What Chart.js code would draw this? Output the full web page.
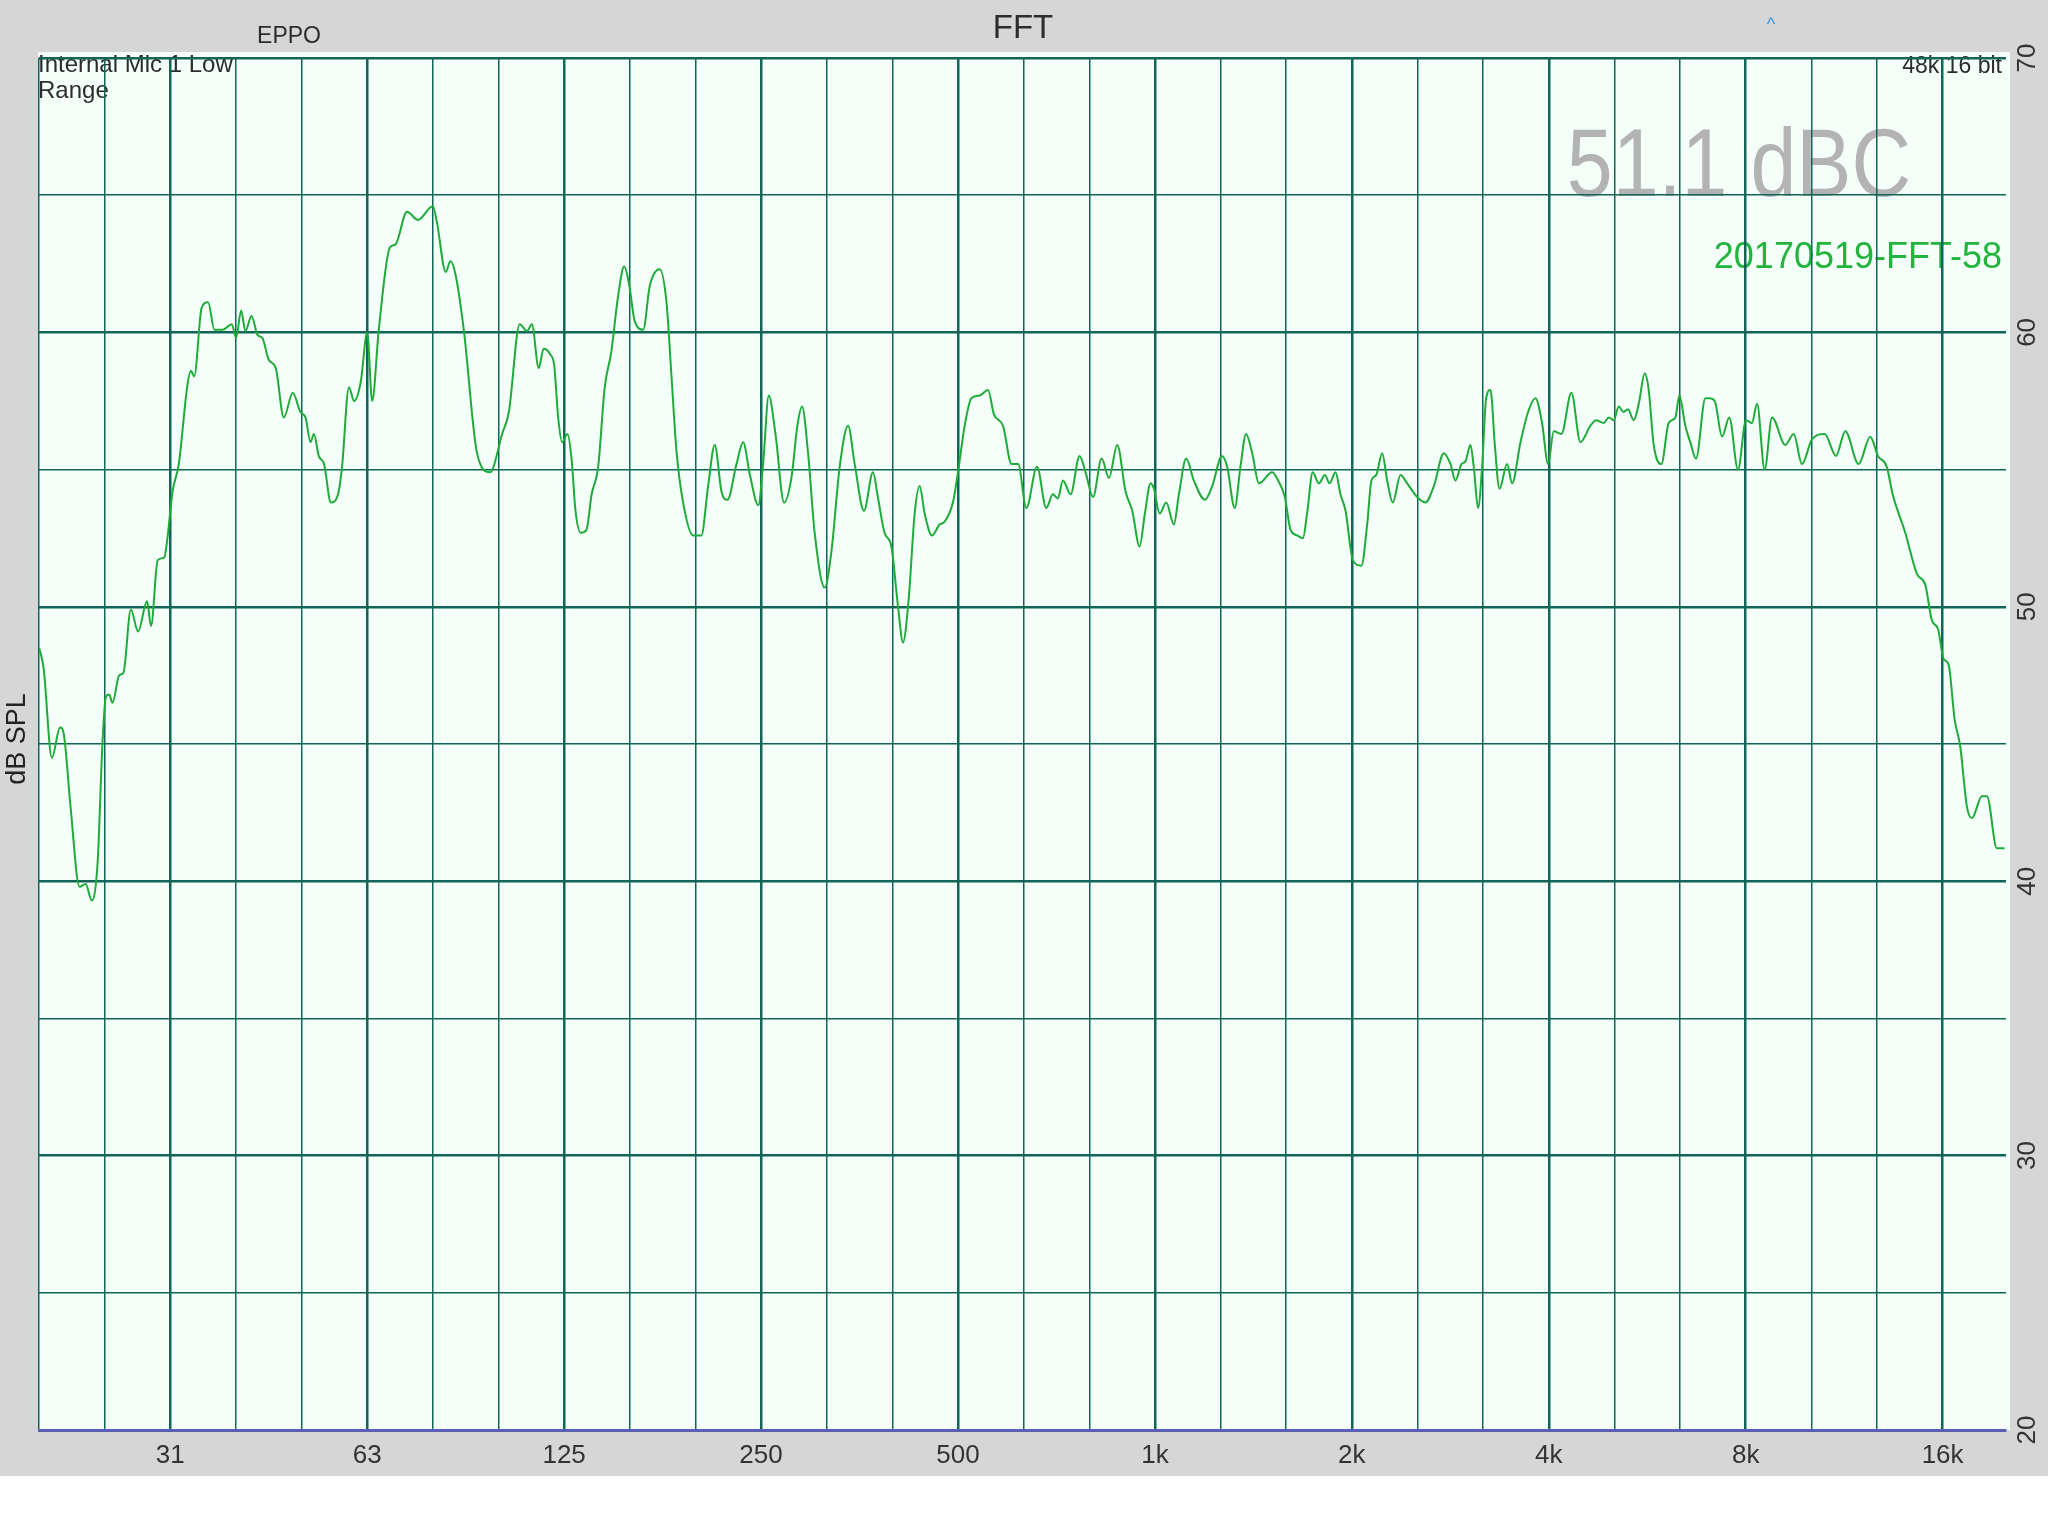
<!DOCTYPE html>
<html lang="en">
<head>
  <meta charset="utf-8">
  <title>FFT</title>
  <script src="https://cdn.jsdelivr.net/npm/chart.js"></script>
  <style>
    html, body {
      margin: 0;
      padding: 0;
      background: #ffffff;
    }
    #wrap {
      width: 2048px;
      height: 1476px;
    }
  </style>
</head>
<body>
  <div id="wrap"><canvas id="fftChart" width="2048" height="1476"></canvas></div>

  <script>
    // trace: frequency (Hz) and level (dB SPL)
    const freqs = [
      19.7, 20.0, 20.6, 21.2, 21.5, 22.0, 22.7, 23.2, 23.7, 24.2, 24.6, 24.9, 25.2, 25.5, 26.1, 26.5,
      27.2, 27.9, 28.8, 29.2, 29.9, 30.6, 30.9, 31.5, 32.2, 33.2, 33.6, 34.0, 34.9, 35.7, 36.5, 37.6,
      38.8, 39.4, 40.1, 40.7, 41.6, 42.5, 43.2, 44.2, 45.3, 46.6, 48.1, 49.4, 50.3, 51.2, 51.8, 52.7,
      53.7, 55.0, 56.4, 57.2, 58.6, 59.7, 61.1, 62.5, 63.6, 65.1, 67.7, 69.0, 71.9, 74.7, 78.75, 79.9,
      82.4, 83.8, 85.3, 87.8, 92.0, 96.3, 100.5, 102.9, 106.9, 109.7, 111.6, 114.3, 116.3, 119.0,
      120.7, 122.4, 124.1, 126.5, 128.3, 130.1, 132.5, 135.2, 137.7, 140.9, 144.2, 147.6, 151.1, 154.4,
      157.0, 160.3, 165.1, 169.0, 175.0, 179.2, 182.4, 185.6, 190.0, 196.8, 202.6, 207.5, 212.4, 217.5,
      222.1, 229.3, 234.7, 240.4, 247.6, 251.8, 256.9, 263.0, 271.1, 278.2, 284.1, 288.8, 295.0, 301.9,
      312.8, 320.2, 329.7, 339.6, 347.6, 359.1, 370.7, 377.1, 386.1, 395.5, 404.9, 412.0, 420.4, 429.3,
      436.9, 444.6, 456.3, 468.6, 477.0, 491.1, 500, 511.9, 524.1, 539.7, 555.7, 567.7, 585.8, 603.7,
      618.0, 636.0, 660.4, 682.2, 698.2, 710.5,
      723.5, 743.2, 767.1, 783.5, 804.2, 829.0, 850.7, 875.8, 901.8, 923.4, 947.4, 965.4, 984.8, 996.5,
      1016.6, 1040.7, 1069.1, 1088.1, 1116.5, 1147.1, 1192.3, 1223.5, 1266.4, 1289.7, 1324.4, 1351.2,
      1378.4, 1408.4, 1441.9, 1511.1, 1543.2, 1580.0, 1611.8, 1650.2, 1683.9, 1708.5, 1742.9, 1780.8,
      1818.9, 1849.0, 1888.1, 1921.6, 1956.2, 2006.9, 2068.9, 2110.9, 2142.9, 2178.8, 2225.4, 2264.6,
      2310.2, 2373.4, 2430.0, 2517.0, 2591.0, 2669.7, 2764.5, 2830.5, 2880.4, 2941.6, 2983.4, 3036.1,
      3072.1, 3119.3, 3163.5, 3208.7, 3258.4, 3308.2, 3362.9, 3454.2, 3516.1, 3621.2, 3719.3, 3816.8,
      3906.6, 3990.8, 4070.6,
      4182.5, 4331.9, 4471.2, 4632.0, 4724.8, 4854.4, 4940.4, 5028.0, 5117.2, 5206.1, 5287.1, 5394.0,
      5491.3, 5607.7, 5686.8, 5787.6, 5945.8, 6100.6, 6246.2, 6335.0, 6468.1, 6582.6, 6717.9, 6942.0,
      7040.4, 7173.8, 7361.7, 7552.2, 7785.9, 8009.4, 8179.2, 8326.4, 8552.0, 8776.8, 9198.4, 9472.0,
      9753.6, 10102, 10565, 10993, 11361, 11905, 12402, 12743, 13146, 13420, 14029, 14618, 15054, 15412,
      15739, 16056, 16338, 16691, 17027, 17434, 17741, 18374, 18701, 19368, 19899
    ];
    const levels = [
      48.5, 47.8, 44.5, 45.6, 45.3, 42.7, 39.8, 39.9, 39.3, 40.7, 44.9, 46.7, 46.8, 46.5, 47.5, 47.6,
      49.9, 49.1, 50.2, 49.3, 51.7, 51.8, 52.4, 54.2, 55.2, 58.1, 58.6, 58.4, 60.9, 61.1, 60.1, 60.1,
      60.3, 59.8, 60.8, 60.05, 60.6, 59.9, 59.8, 59.0, 58.7, 56.9, 57.8, 57.1, 56.9, 56.0, 56.3, 55.5,
      55.2, 53.8, 54.1, 55.1, 58.0, 57.5, 58.2, 60.0, 57.5, 60.1, 63.1, 63.2, 64.4, 64.1, 64.6, 64.0,
      62.2, 62.6, 62.1, 60.1, 55.6, 54.9, 56.3, 57.1, 60.3, 60.05, 60.3, 58.7, 59.4, 59.2,
      58.8, 56.9, 56.0, 56.3, 55.4, 53.5, 52.7, 52.8, 54.1, 55.1, 58.0, 59.3, 61.3, 62.4,
      61.8, 60.4, 60.1, 61.7, 62.3, 61.1, 58.4, 55.7, 53.8, 52.6, 52.6, 54.4, 55.9, 54.2,
      53.9, 55.2, 56.0, 54.8, 53.7, 55.2, 57.7, 56.3, 53.8, 54.7, 56.6, 57.3, 55.6, 52.7,
      50.7, 52.0, 55.1, 56.6, 55.2, 53.5, 54.9, 54.0, 52.7, 52.2, 50.0, 48.7, 50.3, 53.4,
      54.4, 53.4, 52.6, 53.0, 53.1, 53.8, 54.9, 56.6, 57.6, 57.7, 57.9, 57.0, 56.6, 55.2,
      55.2, 53.6, 55.1, 53.6, 54.1, 53.95,
      54.6, 54.1, 55.5, 54.9, 54.0, 55.4, 54.7, 55.9, 54.2, 53.5, 52.2, 53.4, 54.5, 54.3,
      53.4, 53.8, 53.0, 54.1, 55.4, 54.6, 53.9, 54.4, 55.5, 55.1, 53.6, 55.1,
      56.3, 55.6, 54.5, 54.9, 54.6, 54.0, 52.8, 52.6, 52.5, 53.4, 54.9, 54.5,
      54.8, 54.5, 54.9, 54.1, 53.5, 51.7, 51.5, 53.0, 54.6, 54.8, 55.6, 54.6,
      53.8, 54.8, 54.5, 54.0, 53.8, 54.4, 55.6, 55.2, 54.6, 55.2, 55.3, 55.9,
      55.1, 53.6, 55.1, 57.6, 57.9, 55.9, 54.3, 55.2, 54.5, 56.0, 57.1, 57.6,
      56.7, 55.2, 56.4,
      56.3, 57.8, 56.0, 56.6, 56.8, 56.7, 56.9, 56.8, 57.3, 57.1, 57.2, 56.8,
      57.4, 58.5, 57.9, 55.9, 55.2, 56.7, 56.9, 57.7, 56.6, 56.0, 55.4, 57.6,
      57.6, 57.5, 56.2, 56.9, 55.0, 56.8, 56.7, 57.4, 55.0, 56.9, 55.9, 56.3,
      55.2, 56.1, 56.3, 55.5, 56.4, 55.2, 56.2, 55.5, 55.1, 54.1, 52.7, 51.2, 50.8, 49.5,
      49.2, 48.1, 47.9, 45.9, 44.9, 42.7, 42.3, 43.1, 43.1, 41.2, 41.2
    ];

    // axis ticks
    const octaveTicks = [31.25, 62.5, 125, 250, 500, 1000, 2000, 4000, 8000, 16000];
    const octaveLabels = ['31', '63', '125', '250', '500', '1k', '2k', '4k', '8k', '16k'];
    const levelLabels = [70, 60, 50, 40, 30, 20];

    const FONT = "'Liberation Sans', Arial, sans-serif";
    const GRID = '#136559';

    // third-octave grid positions, 20 Hz .. 16 kHz
    const thirdOctaves = [];
    for (let k = -17; k <= 12; k++) thirdOctaves.push(1000 * Math.pow(2, k / 3));

    function isOctave(v) {
      return octaveTicks.some(o => Math.abs(o / v - 1) < 0.01);
    }

    const points = freqs.map((f, i) => ({ x: f, y: levels[i] }));

    const decorations = {
      id: 'decorations',
      beforeDraw(chart) {
        const ctx = chart.ctx;
        const a = chart.chartArea;
        ctx.save();
        ctx.fillStyle = '#d6d6d6';
        ctx.fillRect(0, 0, chart.width, chart.height);
        ctx.fillStyle = '#f3fff8';
        ctx.fillRect(a.left - 1, a.top - 6, a.right - a.left + 5, a.bottom - a.top + 6);

        // texts sitting under the grid
        ctx.fillStyle = '#2c2c2c';
        ctx.font = '24px ' + FONT;
        ctx.textBaseline = 'alphabetic';
        ctx.textAlign = 'left';
        ctx.fillText('Internal Mic 1 Low', 38, 72);
        ctx.fillText('Range', 38, 98);
        ctx.textAlign = 'right';
        ctx.font = '23px ' + FONT;
        ctx.fillText('48k 16 bit', 2002, 73);

        ctx.save();
        ctx.translate(1911, 196);
        ctx.scale(0.86, 1);
        ctx.fillStyle = '#b3b3b3';
        ctx.font = '96px ' + FONT;
        ctx.textAlign = 'right';
        ctx.fillText('51.1 dBC', 0, 0);
        ctx.restore();

        ctx.fillStyle = '#22b43c';
        ctx.font = '36px ' + FONT;
        ctx.fillText('20170519-FFT-58', 2002, 268);

        // header
        ctx.fillStyle = '#2c2c2c';
        ctx.textAlign = 'center';
        ctx.font = '33px ' + FONT;
        ctx.fillText('FFT', 1023, 38);
        ctx.font = '23px ' + FONT;
        ctx.fillText('EPPO', 289, 43);
        ctx.fillStyle = '#3d8fe0';
        ctx.font = '18px ' + FONT;
        ctx.fillText('^', 1771, 30);

        // y title
        ctx.save();
        ctx.translate(25, 739);
        ctx.rotate(-Math.PI / 2);
        ctx.fillStyle = '#222222';
        ctx.font = '27px ' + FONT;
        ctx.textAlign = 'center';
        ctx.fillText('dB SPL', 0, 0);
        ctx.restore();
        ctx.restore();
      }
    };

    new Chart(document.getElementById('fftChart'), {
      type: 'line',
      data: {
        datasets: [{
          data: points,
          borderColor: '#1fab3a',
          borderWidth: 2,
          pointRadius: 0,
          cubicInterpolationMode: 'monotone',
          fill: false
        }]
      },
      options: {
        responsive: false,
        devicePixelRatio: 1,
        animation: false,
        layout: { padding: { left: 39, top: 58, right: 0, bottom: 0 } },
        plugins: {
          legend: { display: false },
          tooltip: { enabled: false }
        },
        scales: {
          x: {
            type: 'logarithmic',
            min: 1000 * Math.pow(2, -17 / 3),
            max: 20000,
            afterBuildTicks: scale => {
              scale.ticks = thirdOctaves.map(v => ({ value: v }));
            },
            afterFit: scale => { scale.height = 46; },
            border: { display: true, color: '#5a5fb5', width: 3 },
            grid: {
              drawTicks: false,
              color: GRID,
              lineWidth: c => (c.tick && isOctave(c.tick.value)) ? 2.5 : 1.5
            },
            ticks: {
              autoSkip: false,
              maxRotation: 0,
              padding: 10,
              color: '#333333',
              font: { family: FONT, size: 26 },
              callback: value => {
                const i = octaveTicks.findIndex(o => Math.abs(o / value - 1) < 0.01);
                return i >= 0 ? octaveLabels[i] : '';
              }
            }
          },
          y: {
            position: 'right',
            min: 20,
            max: 70,
            afterFit: scale => { scale.width = 42; },
            border: { display: false },
            grid: {
              drawTicks: false,
              color: c => (c.tick && c.tick.value === 20) ? 'rgba(0,0,0,0)' : GRID,
              lineWidth: c => (c.tick && c.tick.value % 10 === 0) ? 2.5 : 1.5
            },
            ticks: {
              stepSize: 5,
              minRotation: 90,
              maxRotation: 90,
              crossAlign: 'center',
              padding: 7,
              color: '#333333',
              font: { family: FONT, size: 26 },
              callback: value => levelLabels.includes(value) ? String(value) : ''
            }
          }
        }
      },
      plugins: [decorations]
    });
  </script>
</body>
</html>
